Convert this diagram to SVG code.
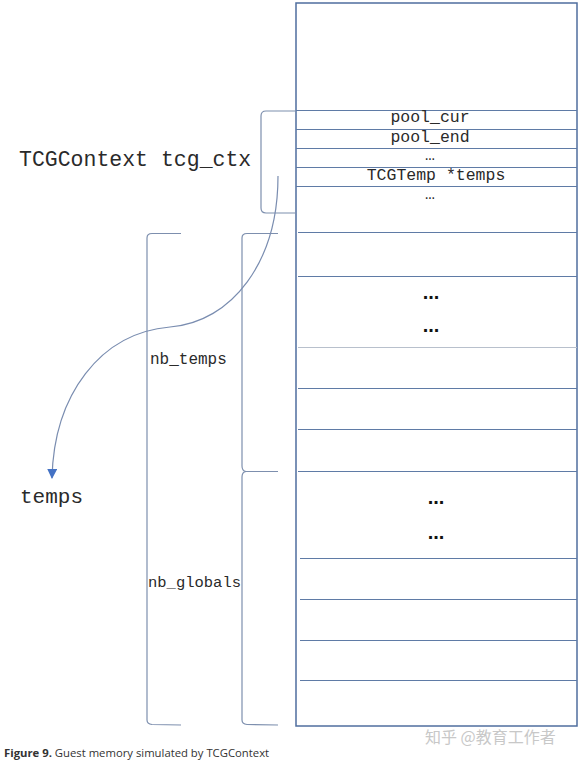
<svg xmlns="http://www.w3.org/2000/svg" width="581" height="763" viewBox="0 0 581 763">
<defs>
<style>
.mono{font-family:"Liberation Mono","Courier New",monospace;fill:#2a2a2a}
.cell{font-size:16.5px}
.dots{font-family:"Liberation Sans",Arial,sans-serif;font-weight:bold;font-size:20px;fill:#111}
.hl{stroke:#5f7ba6;stroke-width:1.2;fill:none}
.br{stroke:#7d8fae;stroke-width:1.2;fill:none}
</style>
<marker id="arr" viewBox="0 0 10 10" refX="9" refY="5" markerWidth="10" markerHeight="10" markerUnits="userSpaceOnUse" orient="auto">
<path d="M0,0 L10,5 L0,10 Z" fill="#4472c4"/>
</marker>
</defs>
<rect width="581" height="763" fill="#fff"/>

<g id="memory">
<rect x="296" y="3" width="281" height="723" fill="none" stroke="#4f6e9e" stroke-width="1.5"/>
<g class="hl">
<line x1="296" y1="110.5" x2="577" y2="110.5"/>
<line x1="296" y1="129.5" x2="577" y2="129.5"/>
<line x1="296" y1="148.5" x2="577" y2="148.5"/>
<line x1="296" y1="167.5" x2="577" y2="167.5"/>
<line x1="296" y1="186.5" x2="577" y2="186.5"/>
<line x1="298" y1="232.5" x2="577" y2="232.5"/>
<line x1="298" y1="276.5" x2="577" y2="276.5"/>
<line x1="298" y1="347.5" x2="577" y2="347.5" stroke="#b8c0cc"/>
<line x1="298" y1="388.5" x2="577" y2="388.5"/>
<line x1="298" y1="429.5" x2="577" y2="429.5"/>
<line x1="298" y1="471.5" x2="577" y2="471.5"/>
<line x1="300" y1="558.5" x2="577" y2="558.5"/>
<line x1="300" y1="599.5" x2="577" y2="599.5"/>
<line x1="300" y1="640.5" x2="577" y2="640.5"/>
<line x1="300" y1="680.5" x2="577" y2="680.5"/>
</g>
<g class="mono cell" text-anchor="middle">
<text x="430" y="122">pool_cur</text>
<text x="430" y="142">pool_end</text>
<text x="430" y="160">…</text>
<text x="436" y="180">TCGTemp *temps</text>
<text x="430" y="199">…</text>
</g>
<g class="dots" text-anchor="middle">
<text x="431" y="299">...</text>
<text x="431" y="332">...</text>
<text x="436" y="504">...</text>
<text x="436" y="539">...</text>
</g>
</g>

<g id="tcg_ctx">
<path class="br" d="M296,111 L266,111 Q261,111 261,116 L261,208 Q261,213 266,213 L296,213"/>
<text class="mono" x="19" y="166" font-size="21.5px">TCGContext tcg_ctx</text>
</g>

<g id="nb_all">
<path class="br" d="M181,233.5 L152,233.5 Q147,233.5 147,238 L147,720 Q147,724 152,724.5 L181,725"/>
</g>

<g id="nb_temps">
<path class="br" d="M278,233.5 L247,233.5 Q242,233.5 242,238 L242,466 Q242,471 246,471.5 L278,471.5"/>
<text class="mono" x="150" y="364" font-size="16px">nb_temps</text>
</g>

<g id="nb_globals">
<path class="br" d="M278,471.5 L246,471.5 Q242,472 242,477 L242,720 Q242,724 247,724.5 L278,725"/>
<text class="mono" x="148" y="587" font-size="15.5px">nb_globals</text>
</g>

<g id="temps">
<text class="mono" x="20" y="503" font-size="21px">temps</text>
</g>

<g id="connectors">
<path d="M278,176 C278,262 232,322 170,327 C100,333 54,395 52,478" fill="none" stroke="#7a8db0" stroke-width="1.2" marker-end="url(#arr)"/>
</g>

<g id="caption">
<text x="4" y="757" font-family="'Open Sans','Noto Sans',sans-serif" font-size="11.3px" fill="#333"><tspan font-weight="bold">Figure 9.</tspan> Guest memory simulated by TCGContext</text>
<text x="425" y="743" font-family="'Noto Sans CJK SC',sans-serif" font-size="16px" fill="#c8c8c8">知乎 @教育工作者</text>
</g>
</svg>
